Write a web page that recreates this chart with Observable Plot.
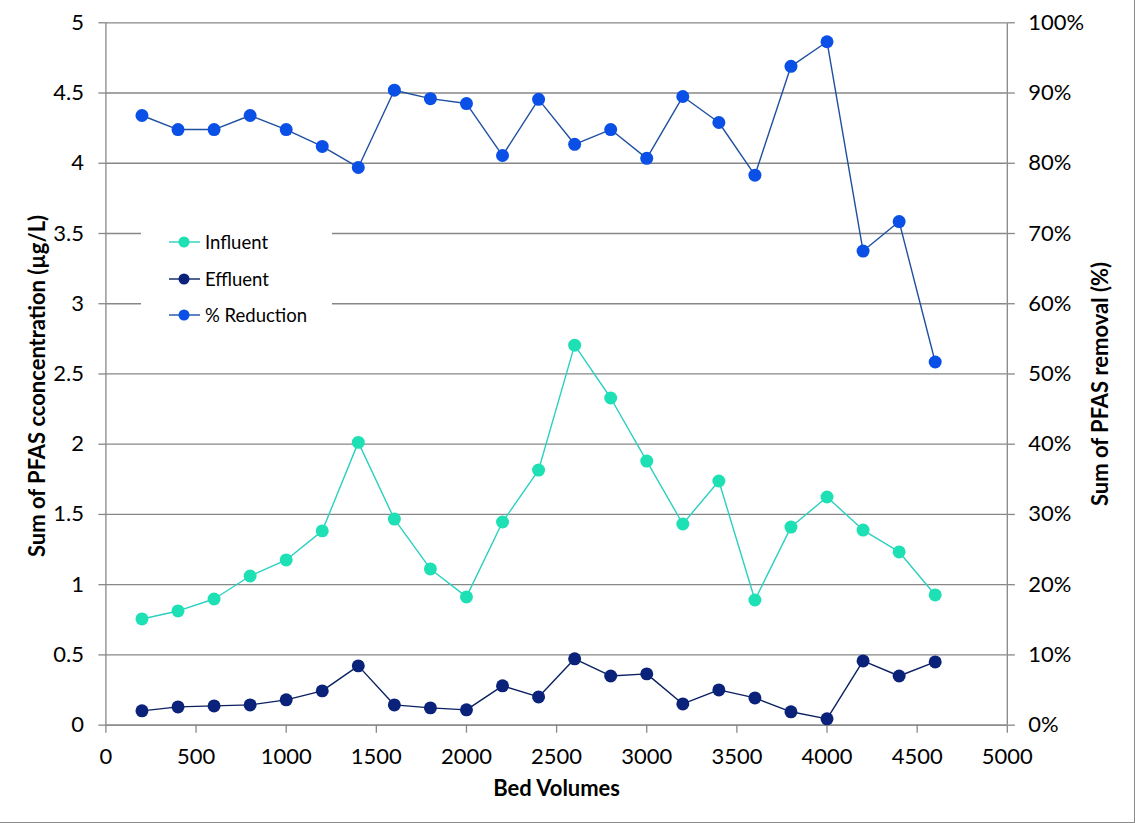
<!DOCTYPE html>
<html>
<head>
<meta charset="utf-8">
<script src="https://cdn.jsdelivr.net/npm/d3@7"></script>
<script src="https://cdn.jsdelivr.net/npm/@observablehq/plot@0.6"></script>
<style>
  body { margin: 0; background: #fff; }
  #wrap { position: relative; width: 1135px; height: 823px; box-sizing: border-box;
          border-right: 1px solid #8a8a8a; border-bottom: 1px solid #8a8a8a; overflow: hidden; background:#fff; }
  #legend { position: absolute; left: 141px; top: 222px; width: 191px; height: 113px; background: #fff;
            font-family: Lato, "Open Sans", sans-serif; font-size: 18.5px; color: #000; }
  .lrow { position: absolute; left: 0; height: 20px; display: flex; align-items: center; }
  .lrow svg { display: block; }
  .lrow span { margin-left: 4px; white-space: nowrap; }
</style>
</head>
<body>
<div id="wrap"><div id="legend"></div></div>
<script>
// ---- data ----
const bedVolumes = [200, 400, 600, 800, 1000, 1200, 1400, 1600, 1800, 2000, 2200, 2400,
                    2600, 2800, 3000, 3200, 3400, 3600, 3800, 4000, 4200, 4400, 4600];
const influent = [0.756, 0.813, 0.898, 1.062, 1.176, 1.383, 2.013, 1.467, 1.112, 0.913, 1.446, 1.816,
                  2.705, 2.329, 1.880, 1.432, 1.738, 0.891, 1.410, 1.624, 1.389, 1.233, 0.927];
const effluent = [0.102, 0.130, 0.137, 0.144, 0.180, 0.244, 0.422, 0.144, 0.123, 0.109, 0.280, 0.201,
                  0.472, 0.350, 0.365, 0.151, 0.251, 0.194, 0.095, 0.045, 0.457, 0.350, 0.450];
const reduction = [86.8, 84.8, 84.8, 86.8, 84.8, 82.4, 79.4, 90.4, 89.2, 88.5, 81.1, 89.1,
                   82.7, 84.8, 80.7, 89.5, 85.8, 78.3, 93.8, 97.3, 67.5, 71.7, 51.7];
const seriesNames = ["Influent", "Effluent", "% Reduction"];
const xTicks = [0, 500, 1000, 1500, 2000, 2500, 3000, 3500, 4000, 4500, 5000];
const leftTicks = [0, 0.5, 1, 1.5, 2, 2.5, 3, 3.5, 4, 4.5, 5];
const leftTickLabels = ["0", "0.5", "1", "1.5", "2", "2.5", "3", "3.5", "4", "4.5", "5"];
const rightTickLabels = ["0%", "10%", "20%", "30%", "40%", "50%", "60%", "70%", "80%", "90%", "100%"];
const xTitle = "Bed Volumes";
const yLeftTitle = "Sum of PFAS cconcentration (µg/L)";
const yRightTitle = "Sum of PFAS removal (%)";

// ---- styles ----
const colors = {
  inflDot: "#1ee0b5", inflLine: "#2bd0c0",
  effDot: "#0a2279", effLine: "#0a2060",
  redDot: "#0a4fe6", redLine: "#1f50a0"
};
const grid = "#878787";

const rows = bedVolumes.map((bv, i) => ({bv, inf: influent[i], eff: effluent[i], red: reduction[i]}));
const redToY = d => d.red / 100 * 5;

const chart = Plot.plot({
  width: 1135, height: 823,
  marginLeft: 105.5, marginRight: 127.3, marginTop: 22.3, marginBottom: 97.7,
  style: {fontFamily: "Lato, 'Open Sans', sans-serif", fontSize: "22px", color: "#000", background: "transparent"},
  x: {domain: [0, 5000]},
  y: {domain: [0, 5]},
  marks: [
    Plot.gridY(leftTicks, {stroke: grid, strokeOpacity: 1, strokeWidth: 1.3}),
    Plot.ruleX([0, 5000], {stroke: grid, strokeWidth: 1.3}),
    Plot.ruleY([0], {stroke: grid, strokeWidth: 1.3}),
    Plot.axisY(leftTicks, {anchor: "left", tickSize: 7, tickPadding: 15, stroke: grid, strokeWidth: 1.3, fill: "#000",
      tickFormat: d => leftTickLabels[leftTicks.indexOf(d)], label: null}),
    Plot.axisY(leftTicks, {anchor: "right", tickSize: 7, tickPadding: 14, stroke: grid, strokeWidth: 1.3, fill: "#000",
      tickFormat: d => rightTickLabels[leftTicks.indexOf(d)], label: null}),
    Plot.axisX(xTicks, {anchor: "bottom", tickSize: 8, tickPadding: 15, stroke: grid, strokeWidth: 1.3, fill: "#000",
      tickFormat: d => String(d), label: null}),
    Plot.line(rows, {x: "bv", y: "inf", stroke: colors.inflLine, strokeWidth: 1.4}),
    Plot.dot(rows, {x: "bv", y: "inf", r: 6.5, fill: colors.inflDot, stroke: "none"}),
    Plot.line(rows, {x: "bv", y: "eff", stroke: colors.effLine, strokeWidth: 1.4}),
    Plot.dot(rows, {x: "bv", y: "eff", r: 6.5, fill: colors.effDot, stroke: "none"}),
    Plot.line(rows, {x: "bv", y: redToY, stroke: colors.redLine, strokeWidth: 1.4}),
    Plot.dot(rows, {x: "bv", y: redToY, r: 6.5, fill: colors.redDot, stroke: "none"}),
    Plot.text([yLeftTitle], {text: d => d, frameAnchor: "left", textAnchor: "middle", lineAnchor: "middle", dx: -68.5, dy: 12, rotate: -90, fontWeight: "bold", fontSize: 22, fill: "#000"}),
    Plot.text([yRightTitle], {text: d => d, frameAnchor: "right", textAnchor: "middle", lineAnchor: "middle", dx: 93.3, dy: 10, rotate: -90, fontWeight: "bold", fontSize: 22, fill: "#000"}),
    Plot.text([xTitle], {text: d => d, frameAnchor: "bottom", textAnchor: "middle", lineAnchor: "middle", dy: 63.7, fontWeight: "bold", fontSize: 22, fill: "#000"})
  ]
});
const wrap = document.getElementById("wrap");
wrap.insertBefore(chart, wrap.firstChild);
chart.style.position = "absolute"; chart.style.left = "0"; chart.style.top = "0";

// legend (inside plot area, white box covering gridlines)
const legend = document.getElementById("legend");
wrap.appendChild(legend);
const legendStyles = [
  {dot: colors.inflDot, line: colors.inflLine},
  {dot: colors.effDot, line: colors.effLine},
  {dot: colors.redDot, line: colors.redLine}
];
const rowTops = [10, 47, 83];
seriesNames.forEach((name, i) => {
  const r = document.createElement("div");
  r.className = "lrow";
  r.style.top = rowTops[i] + "px";
  r.style.left = "27px";
  const s = d3.create("svg").attr("width", 33).attr("height", 20);
  s.append("line").attr("x1", 1).attr("x2", 32).attr("y1", 10).attr("y2", 10)
    .attr("stroke", legendStyles[i].line).attr("stroke-width", 1.4);
  s.append("circle").attr("cx", 16).attr("cy", 10).attr("r", 5.5).attr("fill", legendStyles[i].dot);
  r.appendChild(s.node());
  const t = document.createElement("span");
  t.textContent = name;
  r.appendChild(t);
  legend.appendChild(r);
});
</script>
</body>
</html>
